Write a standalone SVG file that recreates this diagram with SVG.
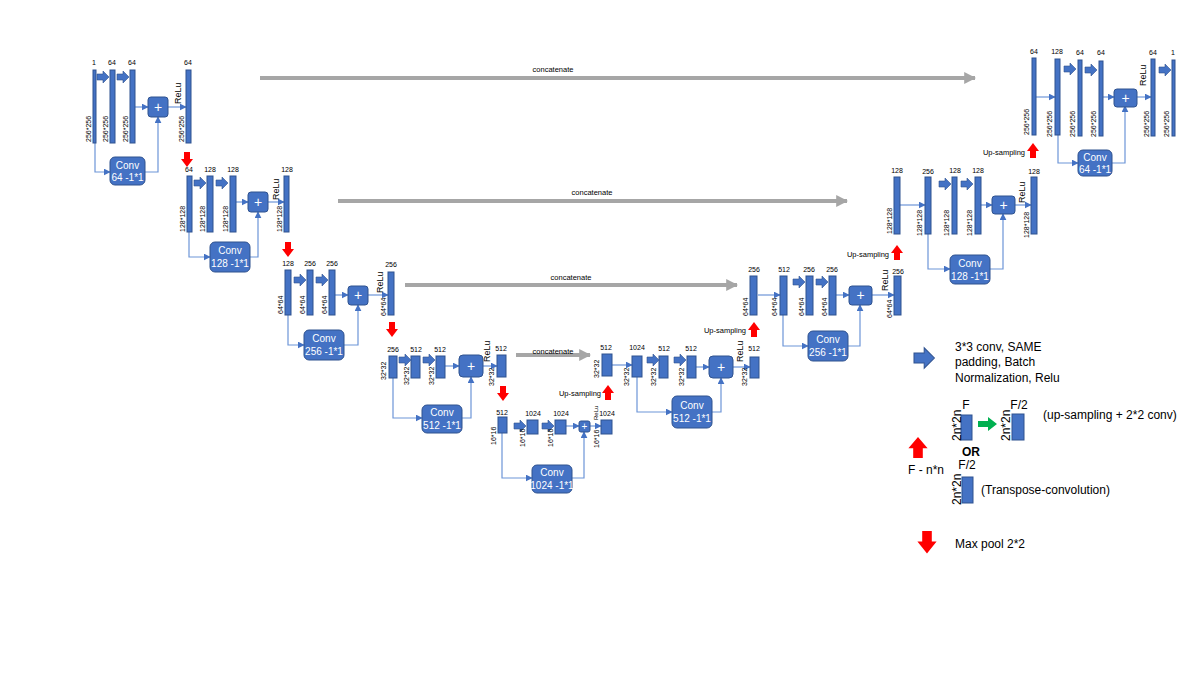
<svg xmlns="http://www.w3.org/2000/svg" width="1200" height="675" viewBox="0 0 1200 675">
<defs>
<style>
.b{fill:#4472C4;stroke:#2F528F;stroke-width:1}
.p{fill:#4472C4;stroke:#2F528F;stroke-width:1}
.c{fill:#4472C4;stroke:#2F528F;stroke-width:1}
.l{fill:none;stroke:#6D95D8;stroke-width:1.2}
.ct{fill:#fff;font-family:"Liberation Sans",Arial,sans-serif;font-size:10px;text-anchor:middle}
.t{font-family:"Liberation Sans",Arial,sans-serif;font-size:7px;fill:#000;text-anchor:middle}
.d{font-family:"Liberation Sans",Arial,sans-serif;font-size:7px;fill:#000}
.r{font-family:"Liberation Sans",Arial,sans-serif;font-size:9px;fill:#000}
.u{font-family:"Liberation Sans",Arial,sans-serif;font-size:7.5px;fill:#000}
.ue{font-family:"Liberation Sans",Arial,sans-serif;font-size:7.5px;fill:#000;text-anchor:end}
.lg{font-family:"Liberation Sans",Arial,sans-serif;font-size:12px;fill:#000}
.g{stroke:#A6A6A6;stroke-width:4;fill:none}
.pl{fill:#fff;font-family:"Liberation Sans",Arial,sans-serif;font-size:14px;text-anchor:middle}
</style>
<marker id="m" viewBox="0 0 10 10" refX="9" refY="5" markerWidth="7" markerHeight="7" markerUnits="userSpaceOnUse" orient="auto"><path d="M0,0 L10,5 L0,10 Z" fill="#4472C4"/></marker>
<marker id="mg" viewBox="0 0 10 10" refX="9" refY="5" markerWidth="3" markerHeight="3" orient="auto"><path d="M0,0 L10,5 L0,10 Z" fill="#A6A6A6"/></marker>
<path id="ba" d="M0,-3 H6 V-6 L12,0 L6,6 V3 H0 Z" fill="#4472C4" stroke="#2F528F" stroke-width="0.6"/>
<path id="rd" d="M-3,0 H3 V7 H6 L0,15 L-6,7 H-3 Z" fill="#FF0000"/>
<path id="ru" d="M-3,15 H3 V8 H6 L0,0 L-6,8 H-3 Z" fill="#FF0000"/>
</defs>
<rect width="1200" height="675" fill="#fff"/>

<g id="connectors">
<line class="g" x1="260" y1="78" x2="975" y2="78" marker-end="url(#mg)"/>
<line class="g" x1="338" y1="201" x2="847" y2="201" marker-end="url(#mg)"/>
<line class="g" x1="405" y1="285" x2="737" y2="285" marker-end="url(#mg)"/>
<line class="g" x1="516" y1="355" x2="590" y2="355" marker-end="url(#mg)"/>
<path class="l" d="M95,143 V172 H110" marker-end="url(#m)"/>
<path class="l" d="M145,172 H158 V117" marker-end="url(#m)"/>
<path class="l" d="M135,107 H148" marker-end="url(#m)"/>
<path class="l" d="M168,107 H186" marker-end="url(#m)"/>
<path class="l" d="M189,232 V257 H210" marker-end="url(#m)"/>
<path class="l" d="M250,257 H258 V212" marker-end="url(#m)"/>
<path class="l" d="M236,202 H248" marker-end="url(#m)"/>
<path class="l" d="M268,202 H284" marker-end="url(#m)"/>
<path class="l" d="M288,315 V345 H304" marker-end="url(#m)"/>
<path class="l" d="M344,345 H358 V305" marker-end="url(#m)"/>
<path class="l" d="M335,295 H348" marker-end="url(#m)"/>
<path class="l" d="M368,295 H388" marker-end="url(#m)"/>
<path class="l" d="M393,378 V418 H422" marker-end="url(#m)"/>
<path class="l" d="M462,418 H471 V377" marker-end="url(#m)"/>
<path class="l" d="M445,366 H459" marker-end="url(#m)"/>
<path class="l" d="M483,366 H497" marker-end="url(#m)"/>
<path class="l" d="M502,433 V478 H532" marker-end="url(#m)"/>
<path class="l" d="M572,478 H584 V432" marker-end="url(#m)"/>
<path class="l" d="M566,426 H579" marker-end="url(#m)"/>
<path class="l" d="M590,426 H601" marker-end="url(#m)"/>
<path class="l" d="M612,365 H632" marker-end="url(#m)"/>
<path class="l" d="M637,377 V412 H672" marker-end="url(#m)"/>
<path class="l" d="M712,412 H721 V378" marker-end="url(#m)"/>
<path class="l" d="M696,367 H709" marker-end="url(#m)"/>
<path class="l" d="M733,367 H750" marker-end="url(#m)"/>
<path class="l" d="M758,295 H780" marker-end="url(#m)"/>
<path class="l" d="M783,315 V346 H808" marker-end="url(#m)"/>
<path class="l" d="M848,346 H860 V305" marker-end="url(#m)"/>
<path class="l" d="M836,295 H849" marker-end="url(#m)"/>
<path class="l" d="M872,295 H894" marker-end="url(#m)"/>
<path class="l" d="M900,205 H925" marker-end="url(#m)"/>
<path class="l" d="M928,234 V269 H950" marker-end="url(#m)"/>
<path class="l" d="M990,269 H1003 V214" marker-end="url(#m)"/>
<path class="l" d="M981,205 H992" marker-end="url(#m)"/>
<path class="l" d="M1015,205 H1031" marker-end="url(#m)"/>
<path class="l" d="M1036,97 H1055" marker-end="url(#m)"/>
<path class="l" d="M1058,135 V163 H1078" marker-end="url(#m)"/>
<path class="l" d="M1112,163 H1125 V106" marker-end="url(#m)"/>
<path class="l" d="M1102,97 H1114" marker-end="url(#m)"/>
<path class="l" d="M1137,97 H1151" marker-end="url(#m)"/>
</g>
<text class="u" x="553" y="72" text-anchor="middle">concatenate</text>
<text class="u" x="592" y="195" text-anchor="middle">concatenate</text>
<text class="u" x="571" y="280" text-anchor="middle">concatenate</text>
<text class="u" x="553" y="354" text-anchor="middle">concatenate</text>

<g id="enc1">
<rect class="b" x="93" y="70" width="3" height="73"/>
<rect class="b" x="110" y="70" width="5" height="73"/>
<rect class="b" x="130" y="70" width="5" height="73"/>
<rect class="b" x="186" y="70" width="5" height="73"/>
<use href="#ba" x="97" y="77"/><use href="#ba" x="117" y="77"/>
<rect class="p" x="148" y="97" width="20" height="20" rx="3"/><text class="pl" x="158" y="112">+</text>
<rect class="c" x="110" y="157" width="35" height="28" rx="5"/>
<text class="ct" x="127.5" y="169">Conv</text><text class="ct" x="127.5" y="181">64 -1*1</text>
<text class="t" x="94" y="65">1</text><text class="t" x="112" y="65">64</text><text class="t" x="132" y="65">64</text><text class="t" x="188" y="65">64</text>
<text class="d" transform="translate(91,142) rotate(-90)">256*256</text>
<text class="d" transform="translate(108,142) rotate(-90)">256*256</text>
<text class="d" transform="translate(128,142) rotate(-90)">256*256</text>
<text class="d" transform="translate(184,142) rotate(-90)">256*256</text>
<text class="r" transform="translate(181,104) rotate(-90)">ReLu</text>
<use href="#rd" x="187" y="152"/>
</g>

<g id="enc2">
<rect class="b" x="187" y="176" width="5" height="56"/>
<rect class="b" x="207" y="176" width="6" height="56"/>
<rect class="b" x="230" y="176" width="6" height="56"/>
<rect class="b" x="284" y="176" width="5" height="56"/>
<use href="#ba" x="194" y="183"/><use href="#ba" x="216" y="183"/>
<rect class="p" x="248" y="192" width="20" height="20" rx="3"/><text class="pl" x="258" y="207">+</text>
<rect class="c" x="210" y="242" width="40" height="30" rx="5"/>
<text class="ct" x="230" y="254">Conv</text><text class="ct" x="230" y="267">128 -1*1</text>
<text class="t" x="189" y="172">64</text><text class="t" x="210" y="172">128</text><text class="t" x="233" y="172">128</text><text class="t" x="287" y="172">128</text>
<text class="d" transform="translate(185,232) rotate(-90)">128*128</text>
<text class="d" transform="translate(205,232) rotate(-90)">128*128</text>
<text class="d" transform="translate(228,232) rotate(-90)">128*128</text>
<text class="d" transform="translate(282,232) rotate(-90)">128*128</text>
<text class="r" transform="translate(279,200) rotate(-90)">ReLu</text>
<use href="#rd" x="288" y="242"/>
</g>

<g id="enc3">
<rect class="b" x="285" y="270" width="6" height="45"/>
<rect class="b" x="307" y="270" width="6" height="45"/>
<rect class="b" x="329" y="270" width="6" height="45"/>
<rect class="b" x="388" y="272" width="6" height="43"/>
<use href="#ba" x="294" y="280"/><use href="#ba" x="316" y="280"/>
<rect class="p" x="348" y="286" width="20" height="19" rx="3"/><text class="pl" x="358" y="300">+</text>
<rect class="c" x="304" y="330" width="40" height="30" rx="5"/>
<text class="ct" x="324" y="342">Conv</text><text class="ct" x="324" y="355">256 -1*1</text>
<text class="t" x="288" y="266">128</text><text class="t" x="310" y="266">256</text><text class="t" x="332" y="266">256</text><text class="t" x="391" y="267">256</text>
<text class="d" transform="translate(283,314) rotate(-90)">64*64</text>
<text class="d" transform="translate(305,314) rotate(-90)">64*64</text>
<text class="d" transform="translate(327,314) rotate(-90)">64*64</text>
<text class="d" transform="translate(386,316) rotate(-90)">64*64</text>
<text class="r" transform="translate(383,293) rotate(-90)">ReLu</text>
<use href="#rd" x="392" y="322"/>
</g>

<g id="enc4">
<rect class="b" x="389" y="356" width="8" height="22"/>
<rect class="b" x="411" y="356" width="9" height="22"/>
<rect class="b" x="436" y="356" width="9" height="22"/>
<rect class="b" x="497" y="355" width="9" height="22"/>
<use href="#ba" x="399" y="360"/><use href="#ba" x="423" y="360"/>
<rect class="p" x="459" y="355" width="24" height="22" rx="4"/><text class="pl" x="471" y="371">+</text>
<rect class="c" x="422" y="405" width="40" height="28" rx="5"/>
<text class="ct" x="442" y="416">Conv</text><text class="ct" x="442" y="429">512 -1*1</text>
<text class="t" x="393" y="352">256</text><text class="t" x="416" y="352">512</text><text class="t" x="440" y="352">512</text><text class="t" x="501" y="351">512</text>
<text class="d" transform="translate(386,380) rotate(-90)">32*32</text>
<text class="d" transform="translate(409,385) rotate(-90)">32*32</text>
<text class="d" transform="translate(434,385) rotate(-90)">32*32</text>
<text class="d" transform="translate(494,386) rotate(-90)">32*32</text>
<text class="r" transform="translate(490,362) rotate(-90)">ReLu</text>
<use href="#rd" x="503" y="386"/>
</g>

<g id="enc5">
<rect class="b" x="498" y="417" width="9" height="16"/>
<rect class="b" x="527" y="420" width="11" height="14"/>
<rect class="b" x="555" y="420" width="11" height="14"/>
<rect class="b" x="601" y="420" width="11" height="14"/>
<use href="#ba" x="514" y="426"/><use href="#ba" x="542" y="426"/>
<rect class="p" x="579" y="421" width="11" height="11" rx="2"/><text class="pl" x="584.5" y="430" style="font-size:10px">+</text>
<rect class="c" x="532" y="465" width="40" height="28" rx="5"/>
<text class="ct" x="552" y="476">Conv</text><text class="ct" x="552" y="489">1024 -1*1</text>
<text class="t" x="502" y="415">512</text><text class="t" x="533" y="416">1024</text><text class="t" x="561" y="416">1024</text><text class="t" x="607" y="416">1024</text>
<text class="d" transform="translate(496,445) rotate(-90)">16*16</text>
<text class="d" transform="translate(525,447) rotate(-90)">16*16</text>
<text class="d" transform="translate(553,447) rotate(-90)">16*16</text>
<text class="d" transform="translate(599,448) rotate(-90)">16*16</text>
<text class="d" transform="translate(598,420) rotate(-90)" style="font-size:6px">ReLu</text>
</g>

<g id="dec4">
<rect class="b" x="602" y="354" width="10" height="22"/>
<rect class="b" x="632" y="356" width="10" height="21"/>
<rect class="b" x="659" y="356" width="9" height="22"/>
<rect class="b" x="687" y="356" width="9" height="22"/>
<rect class="b" x="750" y="357" width="9" height="21"/>
<use href="#ba" x="647" y="360"/><use href="#ba" x="674" y="360"/>
<rect class="p" x="709" y="356" width="24" height="22" rx="4"/><text class="pl" x="721" y="372">+</text>
<rect class="c" x="672" y="396" width="40" height="32" rx="5"/>
<text class="ct" x="692" y="409">Conv</text><text class="ct" x="692" y="422">512 -1*1</text>
<text class="t" x="606" y="350">512</text><text class="t" x="637" y="350">1024</text><text class="t" x="664" y="351">512</text><text class="t" x="691" y="351">512</text><text class="t" x="754" y="351">512</text>
<text class="d" transform="translate(599,378) rotate(-90)">32*32</text>
<text class="d" transform="translate(629,386) rotate(-90)">32*32</text>
<text class="d" transform="translate(656,386) rotate(-90)">32*32</text>
<text class="d" transform="translate(684,386) rotate(-90)">32*32</text>
<text class="d" transform="translate(747,386) rotate(-90)">32*32</text>
<text class="r" transform="translate(743,362) rotate(-90)">ReLu</text>
<text class="ue" x="601" y="396">Up-sampling</text>
<use href="#ru" x="608" y="385"/>
</g>

<g id="dec3">
<rect class="b" x="750" y="276" width="7" height="39"/>
<rect class="b" x="780" y="276" width="7" height="39"/>
<rect class="b" x="806" y="276" width="7" height="39"/>
<rect class="b" x="829" y="276" width="7" height="39"/>
<rect class="b" x="894" y="276" width="7" height="39"/>
<use href="#ba" x="793" y="282"/><use href="#ba" x="816" y="282"/>
<rect class="p" x="849" y="286" width="23" height="19" rx="3"/><text class="pl" x="860.5" y="300">+</text>
<rect class="c" x="808" y="331" width="40" height="30" rx="5"/>
<text class="ct" x="828" y="343">Conv</text><text class="ct" x="828" y="356">256 -1*1</text>
<text class="t" x="754" y="272">256</text><text class="t" x="784" y="272">512</text><text class="t" x="809" y="272">256</text><text class="t" x="832" y="272">256</text><text class="t" x="898" y="274">256</text>
<text class="d" transform="translate(748,316) rotate(-90)">64*64</text>
<text class="d" transform="translate(777,316) rotate(-90)">64*64</text>
<text class="d" transform="translate(804,316) rotate(-90)">64*64</text>
<text class="d" transform="translate(827,316) rotate(-90)">64*64</text>
<text class="d" transform="translate(892,318) rotate(-90)">64*64</text>
<text class="r" transform="translate(888,291) rotate(-90)">ReLu</text>
<text class="ue" x="746" y="333">Up-sampling</text>
<use href="#ru" x="754" y="322"/>
</g>

<g id="dec2">
<rect class="b" x="894" y="177" width="6" height="57"/>
<rect class="b" x="925" y="177" width="6" height="57"/>
<rect class="b" x="952" y="177" width="5" height="57"/>
<rect class="b" x="975" y="177" width="6" height="57"/>
<rect class="b" x="1031" y="177" width="6" height="57"/>
<use href="#ba" x="939" y="184"/><use href="#ba" x="961" y="184"/>
<rect class="p" x="992" y="196" width="23" height="18" rx="3"/><text class="pl" x="1003.5" y="210">+</text>
<rect class="c" x="950" y="255" width="40" height="29" rx="5"/>
<text class="ct" x="970" y="267">Conv</text><text class="ct" x="970" y="280">128 -1*1</text>
<text class="t" x="897" y="173">128</text><text class="t" x="928" y="174">256</text><text class="t" x="955" y="173">128</text><text class="t" x="978" y="173">128</text><text class="t" x="1034" y="174">128</text>
<text class="d" transform="translate(892,234) rotate(-90)">128*128</text>
<text class="d" transform="translate(922,236) rotate(-90)">128*128</text>
<text class="d" transform="translate(949,236) rotate(-90)">128*128</text>
<text class="d" transform="translate(972,236) rotate(-90)">128*128</text>
<text class="d" transform="translate(1029,238) rotate(-90)">128*128</text>
<text class="r" transform="translate(1025,203) rotate(-90)">ReLu</text>
<text class="ue" x="889" y="257">Up-sampling</text>
<use href="#ru" x="897" y="245"/>
</g>

<g id="dec1">
<rect class="b" x="1032" y="58" width="4" height="77"/>
<rect class="b" x="1055" y="59" width="5" height="76"/>
<rect class="b" x="1078" y="60" width="4" height="76"/>
<rect class="b" x="1099" y="61" width="4" height="75"/>
<rect class="b" x="1151" y="59" width="4" height="77"/>
<rect class="b" x="1172" y="60" width="3" height="76"/>
<use href="#ba" x="1064" y="69"/><use href="#ba" x="1085" y="70"/><use href="#ba" x="1159" y="70"/>
<rect class="p" x="1114" y="89" width="23" height="18" rx="3"/><text class="pl" x="1125.5" y="103">+</text>
<rect class="c" x="1078" y="150" width="34" height="26" rx="5"/>
<text class="ct" x="1095" y="161">Conv</text><text class="ct" x="1095" y="173">64 -1*1</text>
<text class="t" x="1034" y="54">64</text><text class="t" x="1057" y="54">128</text><text class="t" x="1080" y="55">64</text><text class="t" x="1101" y="55">64</text><text class="t" x="1153" y="55">64</text><text class="t" x="1173" y="55">1</text>
<text class="d" transform="translate(1029,135) rotate(-90)">256*256</text>
<text class="d" transform="translate(1052,137) rotate(-90)">256*256</text>
<text class="d" transform="translate(1075,137) rotate(-90)">256*256</text>
<text class="d" transform="translate(1096,137) rotate(-90)">256*256</text>
<text class="d" transform="translate(1149,137) rotate(-90)">256*256</text>
<text class="d" transform="translate(1169,137) rotate(-90)">256*256</text>
<text class="r" transform="translate(1146,86) rotate(-90)">ReLu</text>
<text class="ue" x="1025" y="155">Up-sampling</text>
<use href="#ru" x="1033" y="143"/>
</g>

<g id="legend">
<use href="#ba" transform="translate(914,358) scale(1.7)"/>
<text class="lg" x="955" y="351">3*3 conv, SAME</text>
<text class="lg" x="955" y="366">padding, Batch</text>
<text class="lg" x="955" y="382">Normalization, Relu</text>
<text class="lg" x="966" y="409" text-anchor="middle">F</text>
<rect class="b" x="961" y="415" width="11" height="25"/>
<text class="lg" transform="translate(961,441) rotate(-90)">2n*2n</text>
<path d="M978,421 H988 V417 L997,424 L988,431 V427 H978 Z" fill="#00B050"/>
<text class="lg" x="1019" y="409" text-anchor="middle">F/2</text>
<rect class="b" x="1012" y="414" width="12" height="26"/>
<text class="lg" transform="translate(1010,441) rotate(-90)">2n*2n</text>
<text class="lg" x="1043" y="419">(up-sampling + 2*2 conv)</text>
<text class="lg" x="962" y="456" font-weight="bold">OR</text>
<use href="#ru" transform="translate(918,437) scale(1.6,1.4)"/>
<text class="lg" x="908" y="474">F - n*n</text>
<text class="lg" x="967" y="469" text-anchor="middle">F/2</text>
<rect class="b" x="962" y="477" width="11" height="26"/>
<text class="lg" transform="translate(961,505) rotate(-90)">2n*2n</text>
<text class="lg" x="981" y="494">(Transpose-convolution)</text>
<use href="#rd" transform="translate(927,531) scale(1.6,1.5)"/>
<text class="lg" x="955" y="548">Max pool 2*2</text>
</g>
</svg>
